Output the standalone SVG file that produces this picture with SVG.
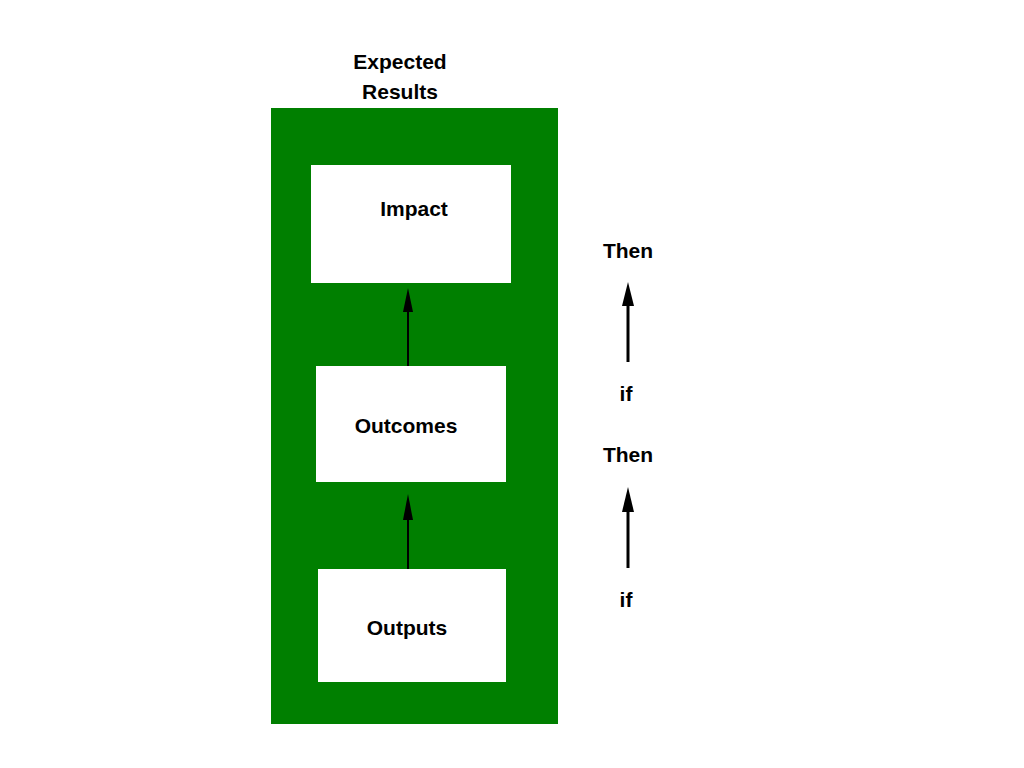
<svg xmlns="http://www.w3.org/2000/svg" width="1024" height="768" viewBox="0 0 1024 768">
<style>
text{font-family:"Liberation Sans",Arial,sans-serif;font-weight:bold;font-size:21px;fill:#000;text-anchor:middle}
.box{fill:#fff}
.c{stroke:#000;stroke-width:3;fill:none;marker-end:url(#ah)}
</style>
<defs><marker id="ah" markerWidth="6" markerHeight="8" refX="3" refY="0.5" orient="auto-start-reverse" markerUnits="userSpaceOnUse" viewBox="0 0 6 8"><path d="M3 0 L6 8 L0 8 Z" fill="#000" transform="rotate(90 3 4)"/></marker>
<marker id="a2" markerWidth="16" markerHeight="20" refX="8" refY="1" orient="auto" markerUnits="userSpaceOnUse"><path d="M1 0 L15 0 L8 0Z"/></marker></defs>
<rect x="0" y="0" width="1024" height="768" fill="#fff"/>
<g id="title"><text x="400" y="69">Expected</text><text x="400" y="99">Results</text></g>
<rect id="frame" x="271" y="108" width="287" height="616" fill="#007f00"/>
<g id="impact"><rect class="box" x="311" y="165" width="200" height="118"/><text x="414" y="216">Impact</text></g>
<g id="outcomes"><rect class="box" x="316" y="366" width="190" height="116"/><text x="406" y="433">Outcomes</text></g>
<g id="outputs"><rect class="box" x="318" y="569" width="188" height="113"/><text x="407" y="635">Outputs</text></g>
<g id="connectors" fill="#000" stroke="#000">
<line x1="408" y1="366" x2="408" y2="300" stroke-width="2"/><path d="M408 288 L413 312 L403 312 Z" stroke="none"/>
<line x1="408" y1="569" x2="408" y2="505" stroke-width="2"/><path d="M408 494 L413 520 L403 520 Z" stroke="none"/>
<line x1="628" y1="362" x2="628" y2="295" stroke-width="3"/><path d="M628 282 L634 306 L622 306 Z" stroke="none"/>
<line x1="628" y1="568" x2="628" y2="500" stroke-width="3"/><path d="M628 487 L634 512 L622 512 Z" stroke="none"/>
</g>
<g id="labels"><text x="628" y="258">Then</text><text x="626" y="401">if</text><text x="628" y="462">Then</text><text x="626" y="607">if</text></g>
</svg>
